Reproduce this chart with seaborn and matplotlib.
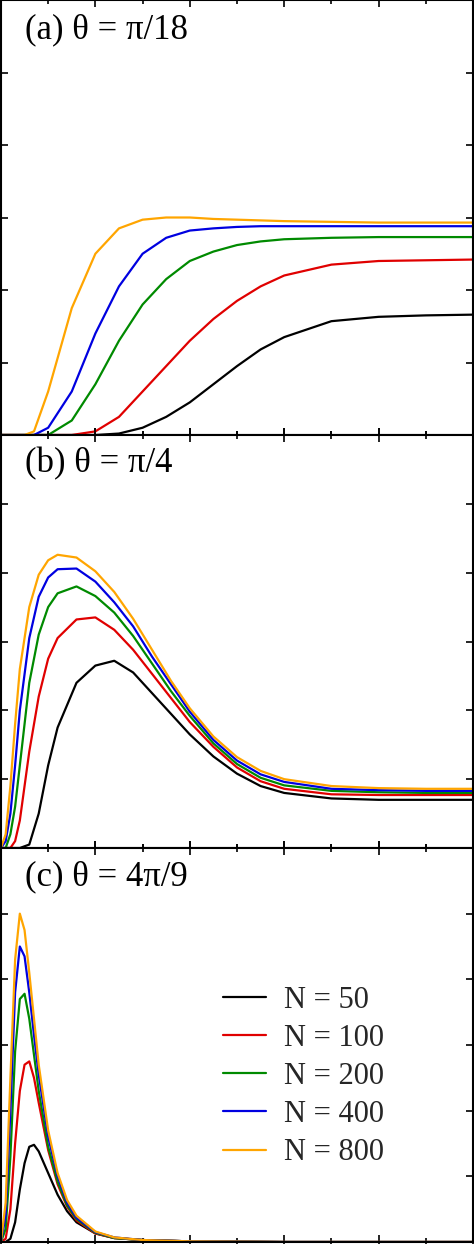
import matplotlib
matplotlib.use("Agg")
import matplotlib.pyplot as plt
import seaborn as sns
from matplotlib.ticker import MultipleLocator

sns.set_theme(style="white")
plt.rcParams['font.family'] = ['Liberation Serif', 'DejaVu Serif']

labels = ["N = 50", "N = 100", "N = 200", "N = 400", "N = 800"]
colors = ["black", "#e00000", "#008a00", "#0000e0", "#ffa500"]

# panel (a)
xa = [0, 0.25, 0.35, 0.5, 0.75, 1.0, 1.25, 1.5, 1.75, 2.0, 2.25, 2.5, 2.75, 3.0, 3.5, 4.0, 4.5, 5.0]
ya = [
    [0, 0, 0, 0, 0, 0, 0.02, 0.1, 0.25, 0.45, 0.7, 0.95, 1.18, 1.35, 1.57, 1.63, 1.65, 1.66],
    [0, 0, 0, 0, 0, 0.05, 0.25, 0.6, 0.95, 1.3, 1.6, 1.85, 2.05, 2.2, 2.35, 2.4, 2.41, 2.42],
    [0, 0, 0, 0, 0.2, 0.7, 1.3, 1.8, 2.15, 2.4, 2.53, 2.62, 2.67, 2.7, 2.72, 2.73, 2.73, 2.73],
    [0, 0, 0, 0.1, 0.6, 1.4, 2.05, 2.5, 2.72, 2.82, 2.85, 2.87, 2.88, 2.88, 2.88, 2.88, 2.88, 2.88],
    [0, 0, 0.05, 0.6, 1.75, 2.5, 2.85, 2.97, 3.0, 3.0, 2.98, 2.97, 2.96, 2.95, 2.94, 2.93, 2.93, 2.93],
]

# panel (b)
xb = [0, 0.05, 0.1, 0.15, 0.2, 0.3, 0.4, 0.5, 0.6, 0.8, 1.0, 1.2, 1.4, 1.6, 1.8, 2.0, 2.25, 2.5, 2.75, 3.0, 3.5, 4.0, 4.5, 5.0]
yb = [
    [0, 0, 0, 0, 0, 0.05, 0.5, 1.2, 1.75, 2.4, 2.65, 2.72, 2.55, 2.25, 1.95, 1.65, 1.33, 1.08, 0.9, 0.8, 0.72, 0.7, 0.7, 0.7],
    [0, 0, 0, 0.1, 0.4, 1.4, 2.2, 2.75, 3.05, 3.32, 3.35, 3.17, 2.88, 2.53, 2.18, 1.83, 1.47, 1.17, 0.97, 0.86, 0.78, 0.77, 0.77, 0.77],
    [0, 0, 0.2, 0.6, 1.2, 2.4, 3.1, 3.5, 3.7, 3.8, 3.66, 3.42, 3.08, 2.68, 2.28, 1.92, 1.52, 1.22, 1.02, 0.91, 0.83, 0.81, 0.8, 0.8],
    [0, 0.1, 0.5, 1.2, 2.0, 3.05, 3.65, 3.93, 4.05, 4.06, 3.87, 3.57, 3.22, 2.78, 2.38, 1.98, 1.57, 1.27, 1.07, 0.96, 0.86, 0.84, 0.83, 0.83],
    [0, 0.2, 0.9, 1.8, 2.6, 3.5, 3.97, 4.18, 4.26, 4.22, 4.02, 3.72, 3.33, 2.88, 2.43, 2.03, 1.62, 1.32, 1.12, 1.0, 0.9, 0.87, 0.86, 0.86],
]

# panel (c)
xc = [0, 0.05, 0.1, 0.15, 0.2, 0.25, 0.3, 0.35, 0.4, 0.5, 0.6, 0.7, 0.8, 1.0, 1.2, 1.5, 2.0, 3.0, 5.0]
yc = [
    [0, 0, 0.05, 0.3, 0.8, 1.2, 1.45, 1.48, 1.38, 1.05, 0.72, 0.47, 0.3, 0.13, 0.06, 0.03, 0.01, 0, 0],
    [0, 0.05, 0.5, 1.5, 2.3, 2.7, 2.75, 2.5, 2.12, 1.4, 0.88, 0.54, 0.33, 0.13, 0.06, 0.03, 0.01, 0, 0],
    [0, 0.2, 1.3, 2.9, 3.7, 3.78, 3.4, 2.85, 2.3, 1.45, 0.92, 0.56, 0.35, 0.14, 0.06, 0.03, 0.01, 0, 0],
    [0, 0.4, 2.0, 3.8, 4.5, 4.35, 3.8, 3.15, 2.55, 1.6, 1.0, 0.6, 0.37, 0.15, 0.07, 0.03, 0.01, 0, 0],
    [0, 0.6, 2.5, 4.3, 5.0, 4.75, 4.1, 3.4, 2.7, 1.7, 1.05, 0.64, 0.4, 0.16, 0.07, 0.03, 0.01, 0, 0],
]

titles = ["(a) θ = π/18", "(b) θ = π/4", "(c) θ = 4π/9"]
panels = [(xa, ya), (xb, yb), (xc, yc)]
bounds = [(0, 435), (435, 848), (848, 1242)]

fig = plt.figure(figsize=(4.74, 12.44), dpi=100)
H = 1244.0
for i, ((xs, ys), (t, b)) in enumerate(zip(panels, bounds)):
    ax = fig.add_axes([0.002, 1 - b / H, 0.996, (b - t) / H])
    for y, c, lab in zip(ys, colors, labels):
        sns.lineplot(x=xs, y=y, color=c, lw=1.6, ax=ax, label=lab if i == 2 else None)
    ax.set_xlim(0, 5)
    ax.set_ylim(0, 6)
    ax.xaxis.set_major_locator(MultipleLocator(1))
    ax.xaxis.set_minor_locator(MultipleLocator(0.5))
    ax.yaxis.set_major_locator(MultipleLocator(1))
    ax.tick_params(which="both", direction="inout", top=True, bottom=True, left=True, right=True,
                   labelleft=False, labelbottom=False, length=10, width=1.2, color="black")
    ax.tick_params(which="minor", length=6)
    for s in ax.spines.values():
        s.set_color("black")
        s.set_linewidth(1.5)
    ax.text(0.05, 0.97, titles[i], transform=ax.transAxes, ha="left", va="top", fontsize=25, color="black")
    if i == 2:
        ax.legend(loc="center right", bbox_to_anchor=(0.87, 0.42), frameon=False, fontsize=22,
                  handlelength=1.4, labelspacing=0.3, handletextpad=0.6)
    else:
        if ax.get_legend():
            ax.get_legend().remove()

fig.savefig("out.png", dpi=100)
